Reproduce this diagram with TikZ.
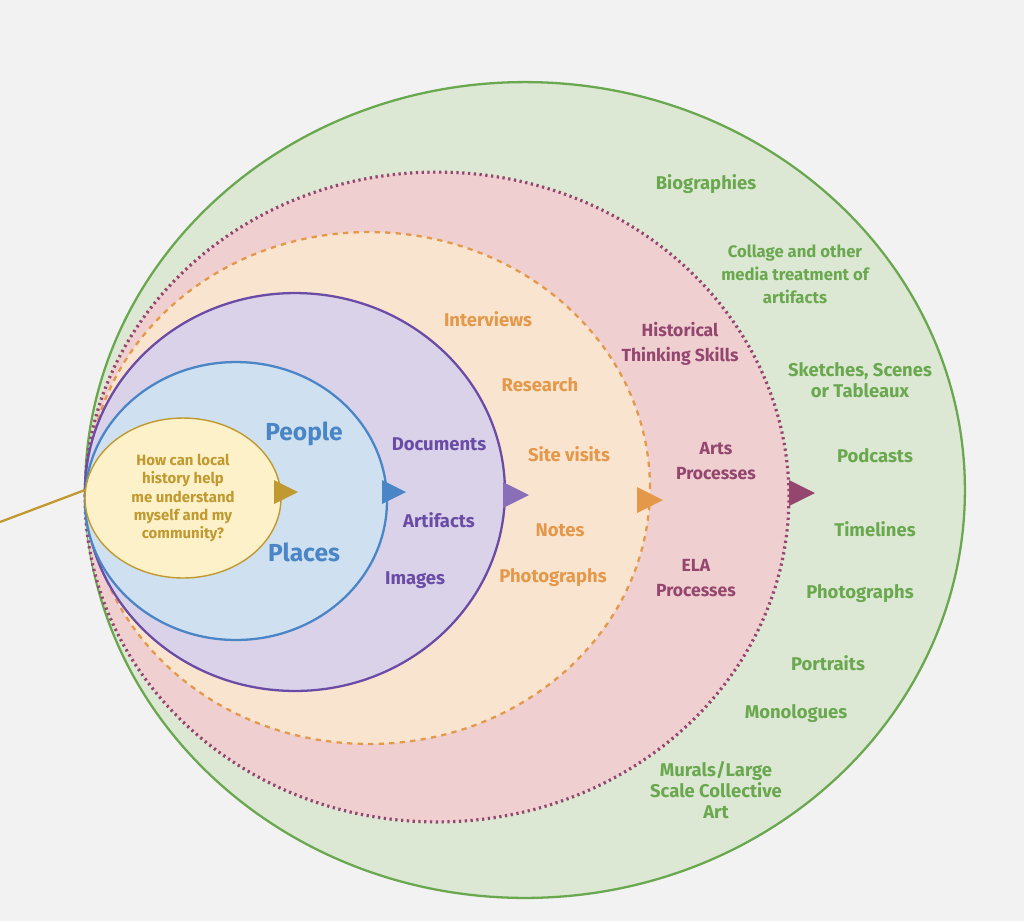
\documentclass[tikz,border=0pt]{standalone}
\usepackage{fontspec}
\setmainfont{Fira Sans}
\usetikzlibrary{shapes.geometric}
\definecolor{bgc}{HTML}{F2F2F2}
\definecolor{grn}{HTML}{6AA84F}
\definecolor{grnf}{HTML}{DDE8D4}
\definecolor{red}{HTML}{94466F}
\definecolor{redf}{HTML}{EFCFCF}
\definecolor{org}{HTML}{E3984A}
\definecolor{orgf}{HTML}{F9E5CF}
\definecolor{pur}{HTML}{6A4BA6}
\definecolor{purf}{HTML}{D9D2E8}
\definecolor{blu}{HTML}{4A85C6}
\definecolor{bluf}{HTML}{CFE0F1}
\definecolor{gld}{HTML}{C09A30}
\definecolor{gldf}{HTML}{FDF1C9}
\tikzset{
  ring/.style={ellipse, inner sep=0pt, line width=1.3pt},
  lbl/.style={font=\fontsize{10.5}{12}\selectfont\bfseries, align=center},
}
\begin{document}
\begin{tikzpicture}[x=0.02cm, y=-0.02cm]
   \fill [bgc] (0,0) rectangle (1024,921);
   \useasboundingbox (0,0) rectangle (1024,921);

   % Nested rings
   \node (green) [ring, draw=grn, fill=grnf, minimum width=17.6cm, minimum height=16.32cm] at (525,490) {};
   \node (redr) [ring, draw=red, fill=redf, dotted, line width=1.8pt, minimum width=14.08cm, minimum height=13cm] at (437,497) {};
   \node (orange) [ring, draw=org, fill=orgf, dashed, minimum width=11.24cm, minimum height=10.24cm] at (369,488) {};
   \node (purple) [ring, draw=pur, fill=purf, minimum width=8.4cm, minimum height=7.96cm] at (295,492) {};
   \node (blue) [ring, draw=blu, fill=bluf, minimum width=6.04cm, minimum height=5.56cm] at (236,501) {};
   \coordinate (start) at (0,522);
   \draw [gld, line width=1.3pt] (start) -- (85,490);
   \node (question) [ring, draw=gld, fill=gldf, line width=0.8pt, minimum width=3.92cm, minimum height=3.2cm,
     text=gld, font=\fontsize{8.5}{10.5}\selectfont\bfseries, align=center] at (183,498)
     {How can local\\history help\\me understand\\myself and my\\community?};

   % Arrow tips
   \fill [gld] (274,480) -- (298,492) -- (274,504) -- cycle;
   \fill [blu] (382,480) -- (406,492) -- (382,504) -- cycle;
   \fill [pur!80] (503,482) -- (529,495) -- (503,508) -- cycle;
   \fill [org] (637,487) -- (663,500) -- (637,513) -- cycle;
   \fill [red] (789,480) -- (815,493) -- (789,506) -- cycle;

   % Labels
   \node (people) [lbl, text=blu, font=\fontsize{14}{16}\selectfont\bfseries] at (304,434) {People};
   \node (places) [lbl, text=blu, font=\fontsize{14}{16}\selectfont\bfseries] at (304,552) {Places};
   \node (docs) [lbl, text=pur] at (439,444) {Documents};
   \node (arts) [lbl, text=pur] at (439,520) {Artifacts};
   \node (imgs) [lbl, text=pur] at (415,580) {Images};
   \node (intv) [lbl, text=org] at (488,319) {Interviews};
   \node (rsch) [lbl, text=org] at (540,385) {Research};
   \node (site) [lbl, text=org] at (569,454) {Site visits};
   \node (notes) [lbl, text=org] at (560,530) {Notes};
   \node (phot) [lbl, text=org] at (553,578) {Photographs};
   \node (hist) [lbl, text=red, font=\fontsize{10}{14}\selectfont\bfseries] at (680,344) {Historical\\Thinking Skills};
   \node (artp) [lbl, text=red, font=\fontsize{10}{14}\selectfont\bfseries] at (716,461) {Arts\\Processes};
   \node (elap) [lbl, text=red, font=\fontsize{10}{14}\selectfont\bfseries] at (696,578) {ELA\\Processes};
   \node (bio) [lbl, text=grn] at (706,184) {Biographies};
   \node (coll) [lbl, text=grn, font=\fontsize{9.5}{13}\selectfont\bfseries] at (795,274) {Collage and other\\media treatment of\\artifacts};
   \node (sket) [lbl, text=grn] at (860,380) {Sketches, Scenes\\or Tableaux};
   \node (pod) [lbl, text=grn] at (875,456) {Podcasts};
   \node (time) [lbl, text=grn] at (875,529) {Timelines};
   \node (phog) [lbl, text=grn] at (860,594) {Photographs};
   \node (port) [lbl, text=grn] at (828,663) {Portraits};
   \node (mono) [lbl, text=grn] at (796,714) {Monologues};
   \node (mur) [lbl, text=grn] at (716,790) {Murals/Large\\Scale Collective\\Art};
\end{tikzpicture}
\end{document}
